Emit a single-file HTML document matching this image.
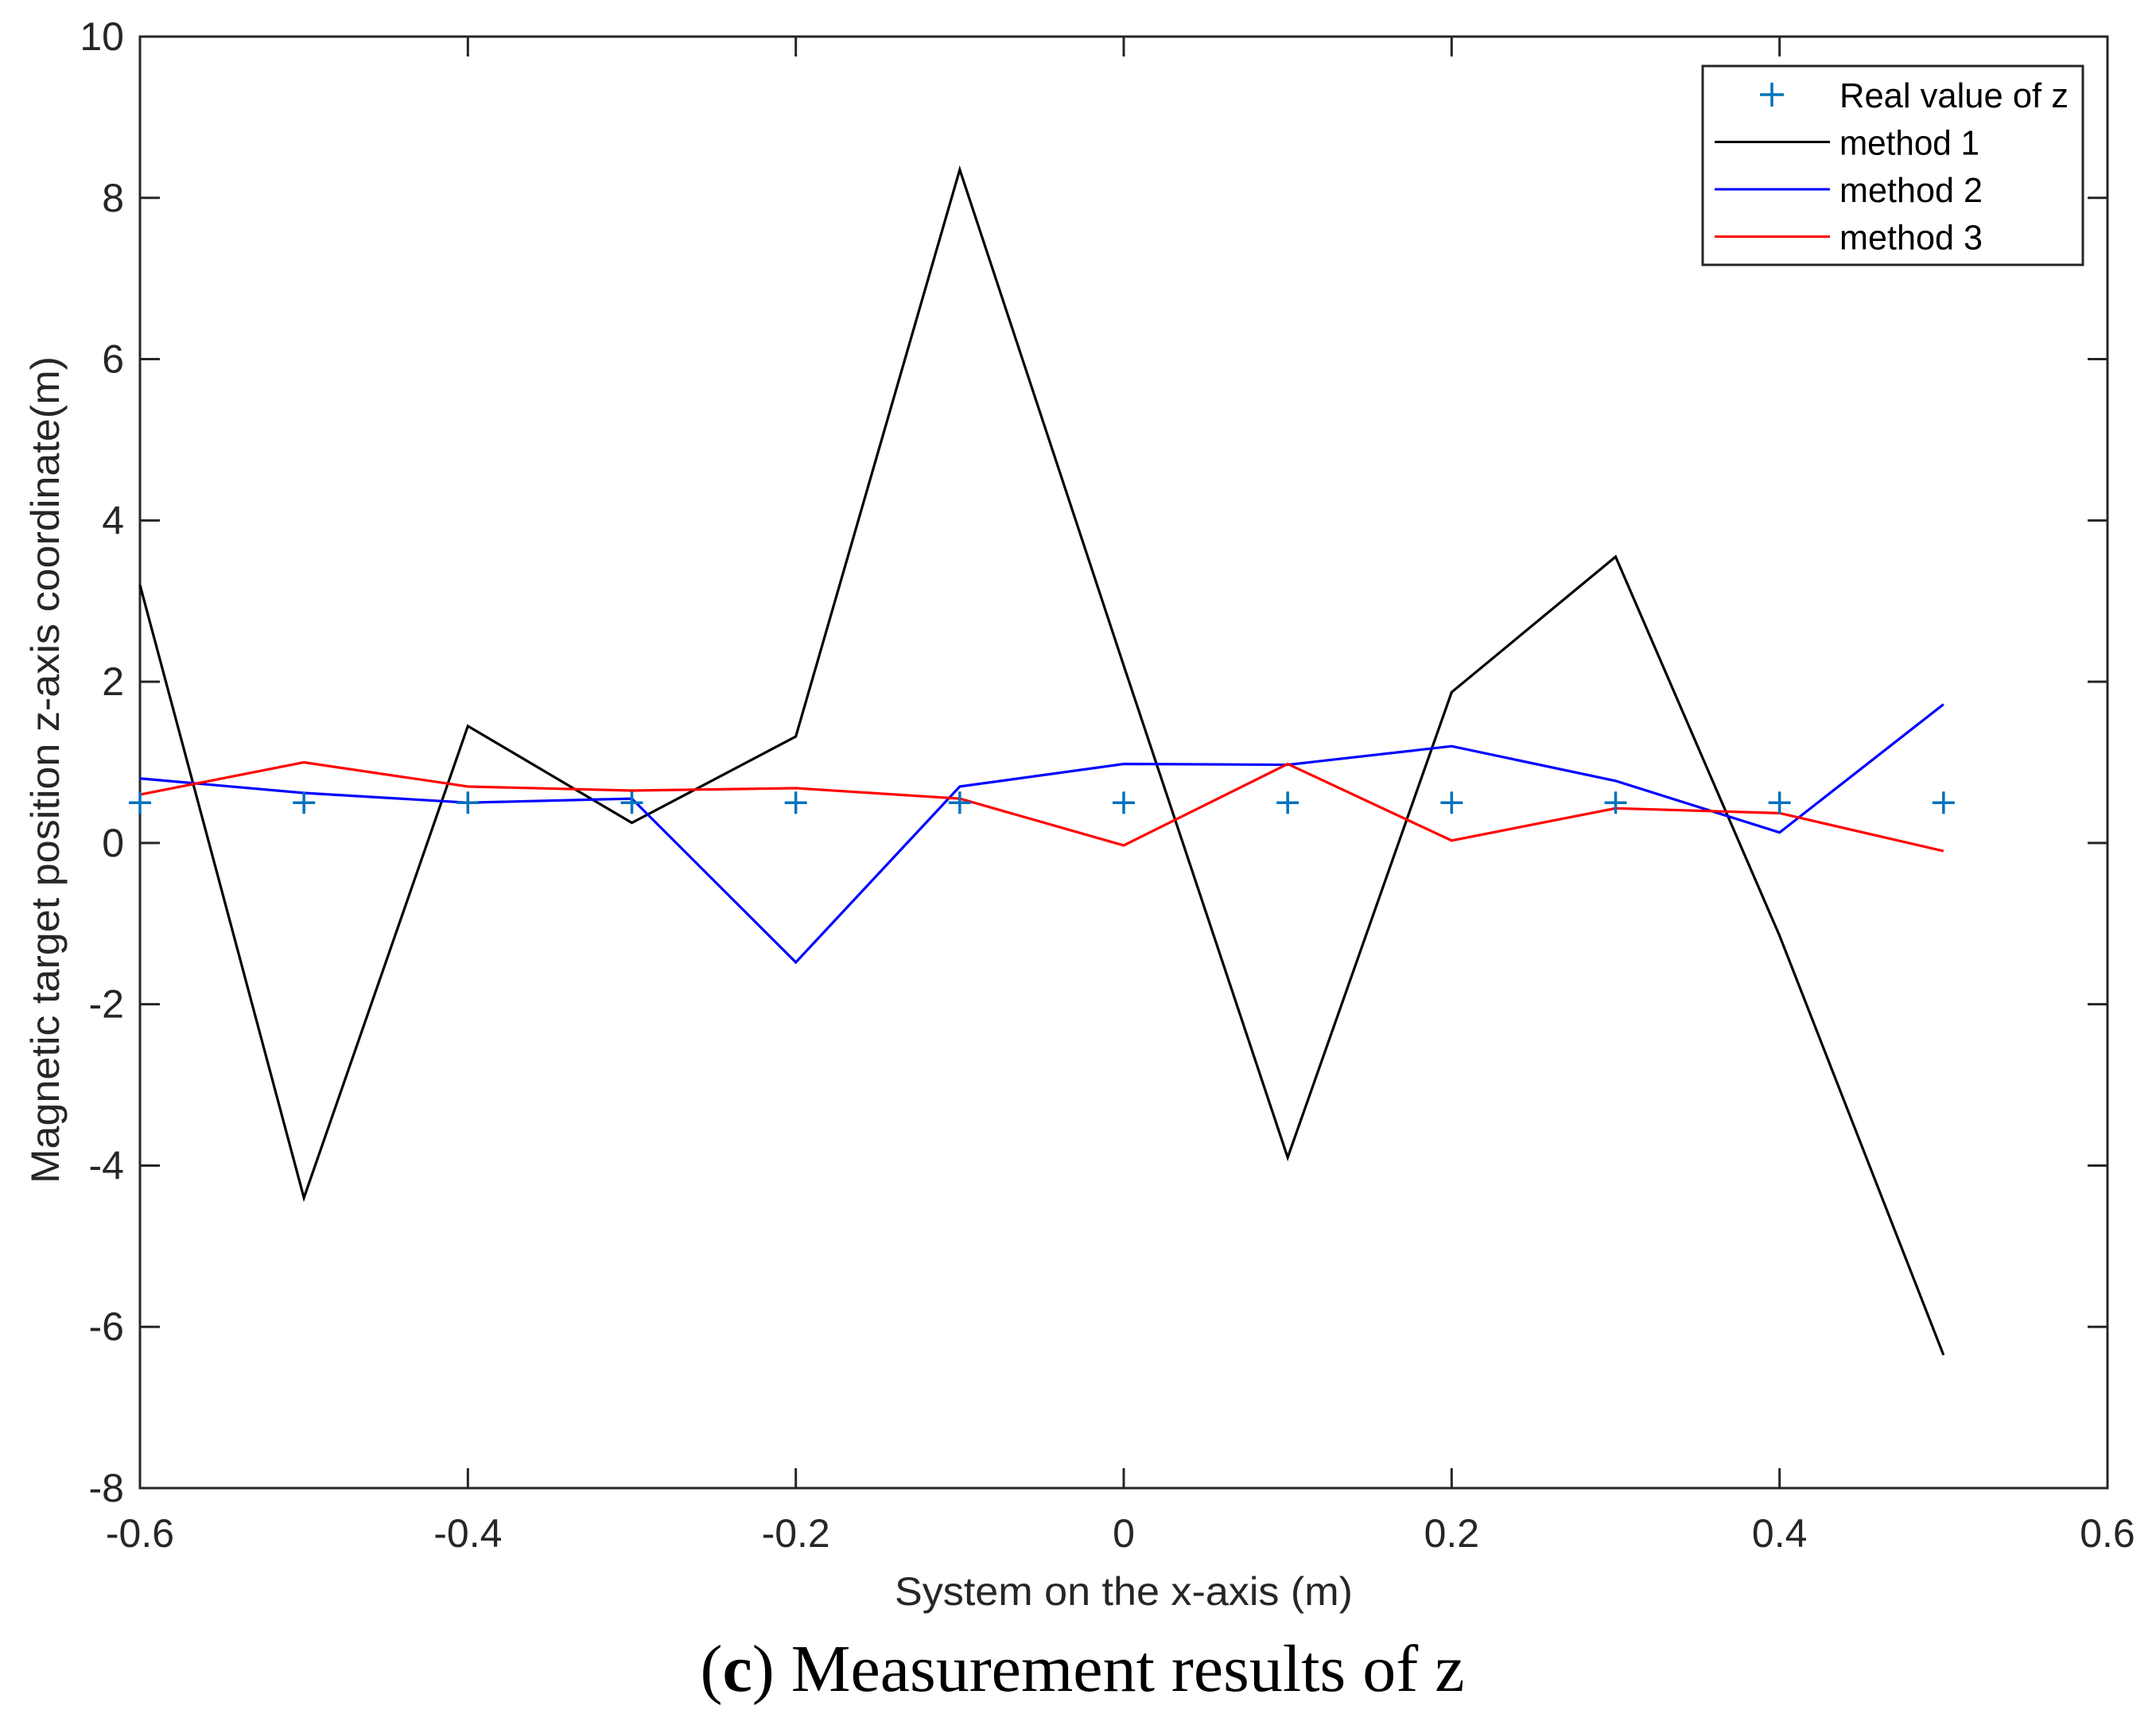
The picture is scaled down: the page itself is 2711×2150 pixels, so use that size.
<!DOCTYPE html>
<html><head><meta charset="utf-8"><style>
body{margin:0;background:#fff}
svg{display:block}
text{font-family:"Liberation Sans",sans-serif;fill:#262626}
</style></head><body>
<svg id="chart" width="2711" height="2150" viewBox="0 0 2711 2150" xmlns="http://www.w3.org/2000/svg">
<g id="plot"></g>
</svg>
<script>
const xCats=[-0.6,-0.5,-0.4,-0.3,-0.2,-0.1,0,0.1,0.2,0.3,0.4,0.5];
const realZ=[0.5,0.5,0.5,0.5,0.5,0.5,0.5,0.5,0.5,0.5,0.5,0.5];
const method1=[3.2,-4.4,1.45,0.25,1.32,8.35,2.2,-3.9,1.87,3.55,-1.15,-6.35];
const method2=[0.8,0.62,0.5,0.55,-1.48,0.7,0.98,0.97,1.2,0.77,0.13,1.72];
const method3=[0.6,1.0,0.7,0.65,0.68,0.55,-0.03,0.98,0.03,0.43,0.37,-0.1];
const xTicks=[-0.6,-0.4,-0.2,0,0.2,0.4,0.6];
const xTickLabels=["-0.6","-0.4","-0.2","0","0.2","0.4","0.6"];
const yTicks=[-8,-6,-4,-2,0,2,4,6,8,10];
const yTickLabels=["-8","-6","-4","-2","0","2","4","6","8","10"];

const L=176,R=2650,T=46,B=1871;
const X=v=>L+(v+0.6)/1.2*(R-L);
const Y=v=>B-(v+8)/18*(B-T);
const ns="http://www.w3.org/2000/svg";
const g=document.getElementById('plot');
function mk(tag,attrs,parent){const e=document.createElementNS(ns,tag);for(const k in attrs)e.setAttribute(k,attrs[k]);(parent||g).appendChild(e);return e;}

const frame=mk('rect',{x:L,y:T,width:R-L,height:B-T,fill:'none',stroke:'#262626','stroke-width':3});



xTicks.forEach((v,i)=>{
  const x=X(v);
  mk('line',{x1:x,y1:B,x2:x,y2:B-25,stroke:'#262626','stroke-width':3});
  mk('line',{x1:x,y1:T,x2:x,y2:T+25,stroke:'#262626','stroke-width':3});
  const t=mk('text',{x:x,y:1945,'font-size':50,'text-anchor':'middle'});
  t.textContent=xTickLabels[i];
  
  
});
yTicks.forEach((v,i)=>{
  const y=Y(v);
  mk('line',{x1:L,y1:y,x2:L+25,y2:y,stroke:'#262626','stroke-width':3});
  mk('line',{x1:R,y1:y,x2:R-25,y2:y,stroke:'#262626','stroke-width':3});
  const t=mk('text',{x:156,y:y+17,'font-size':50,'text-anchor':'end'});
  t.textContent=yTickLabels[i];
  
  
});

function line(vals,color,name){
  const p=mk('polyline',{points:vals.map((v,i)=>X(xCats[i])+','+Y(v)).join(' '),fill:'none',stroke:color,'stroke-width':3.2});
  
  
}
line(method1,'#000','method-1-line');
line(method2,'#0000ff','method-2-line');
line(method3,'#ff0000','method-3-line');
realZ.forEach((v,i)=>{
  const x=X(xCats[i]),y=Y(v);
  const m=mk('path',{d:`M${x-14},${y}H${x+14}M${x},${y-14}V${y+14}`,stroke:'#0072bd','stroke-width':3.5,fill:'none'});
  
  
});

// legend
const lg=mk('g',{});


mk('rect',{x:2141,y:83,width:478,height:250,fill:'#fff',stroke:'#262626','stroke-width':3},lg);
const entries=[['Real value of z',null,288],['method 1','#000',176],['method 2','#0000ff',180],['method 3','#ff0000',180]];
entries.forEach((e,i)=>{
  const y=119+i*59.5;
  const eg=mk('g',{},lg);
  
  
  if(e[1]) mk('line',{x1:2156,y1:y,x2:2301,y2:y,stroke:e[1],'stroke-width':3},eg);
  else mk('path',{d:`M2213,${y}H2243M2228,${y-15}V${y+15}`,stroke:'#0072bd','stroke-width':3.5},eg);
  const t=mk('text',{x:2313,y:y+16,'font-size':44,textLength:e[2],lengthAdjust:'spacingAndGlyphs',style:'fill:#000'},eg);
  t.textContent=e[0];
});

const xt=mk('text',{x:1413,y:2018,'font-size':50,'text-anchor':'middle',textLength:576,lengthAdjust:'spacingAndGlyphs'});
xt.textContent='System on the x-axis (m)';


const yt=mk('text',{x:0,y:0,'font-size':50,'text-anchor':'middle',textLength:1040,lengthAdjust:'spacingAndGlyphs',transform:'translate(74,968) rotate(-90)'});
yt.textContent='Magnetic target position z-axis coordinate(m)';


const cap=mk('text',{x:1361,y:2126,'font-size':84,'text-anchor':'middle',style:'font-family:"Liberation Serif",serif;fill:#000'});
cap.innerHTML='(<tspan font-weight="bold">c</tspan>) Measurement results of z';


</script>
</body></html>
